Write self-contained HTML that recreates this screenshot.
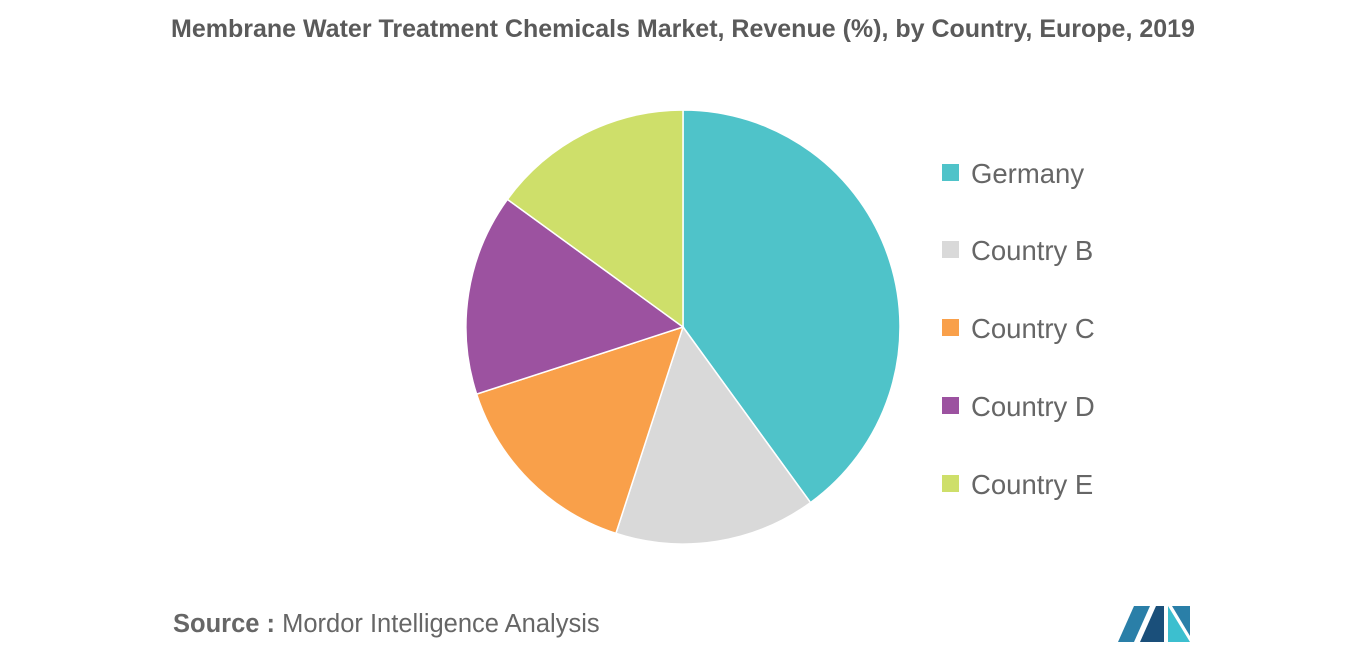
<!DOCTYPE html>
<html><head><meta charset="utf-8"><style>
body{margin:0;background:#fff;width:1366px;height:655px;overflow:hidden;font-family:"Liberation Sans",sans-serif;}
</style></head><body>
<svg width="1366" height="655" xmlns="http://www.w3.org/2000/svg">
<text x="683" y="37" text-anchor="middle" font-family="Liberation Sans" font-weight="bold" font-size="25" fill="#5a5a5a">Membrane Water Treatment Chemicals Market, Revenue (%), by Country, Europe, 2019</text>
<g stroke="#fff" stroke-width="1.5">
<path d="M683,327 L683,110 A217,217 0 0 1 810.5,502.6 Z" fill="#4fc3c9"/>
<path d="M683,327 L810.5,502.6 A217,217 0 0 1 615.9,533.4 Z" fill="#d9d9d9"/>
<path d="M683,327 L615.9,533.4 A217,217 0 0 1 476.6,394.1 Z" fill="#f9a04a"/>
<path d="M683,327 L476.6,394.1 A217,217 0 0 1 507.4,199.4 Z" fill="#9c52a0"/>
<path d="M683,327 L507.4,199.4 A217,217 0 0 1 683,110 Z" fill="#cedf6a"/>
</g>
<g font-family="Liberation Sans" font-size="27.5" fill="#666">
<rect x="942" y="164" width="17" height="17" fill="#4fc3c9"/><text x="971" y="183">Germany</text>
<rect x="942" y="241" width="17" height="17" fill="#d9d9d9"/><text x="971" y="260">Country B</text>
<rect x="942" y="319" width="17" height="17" fill="#f9a04a"/><text x="971" y="338">Country C</text>
<rect x="942" y="397" width="17" height="17" fill="#9c52a0"/><text x="971" y="416">Country D</text>
<rect x="942" y="475" width="17" height="17" fill="#cedf6a"/><text x="971" y="494">Country E</text>
</g>
<text x="173" y="632" font-family="Liberation Sans" font-size="25.5" fill="#666"><tspan font-weight="bold">Source :</tspan> Mordor Intelligence Analysis</text>
<g>
<polygon points="1118,642 1134,606 1150,606 1134,642" fill="#2a7fa8"/>
<polygon points="1140,642 1156,606 1164,606 1164,642" fill="#1a4f7a"/>
<polygon points="1168,642 1168,606 1190,642" fill="#3cbfcf"/>
<polygon points="1172,606 1190,606 1190,636" fill="#2a7fa8"/>
</g>
</svg>
</body></html>
